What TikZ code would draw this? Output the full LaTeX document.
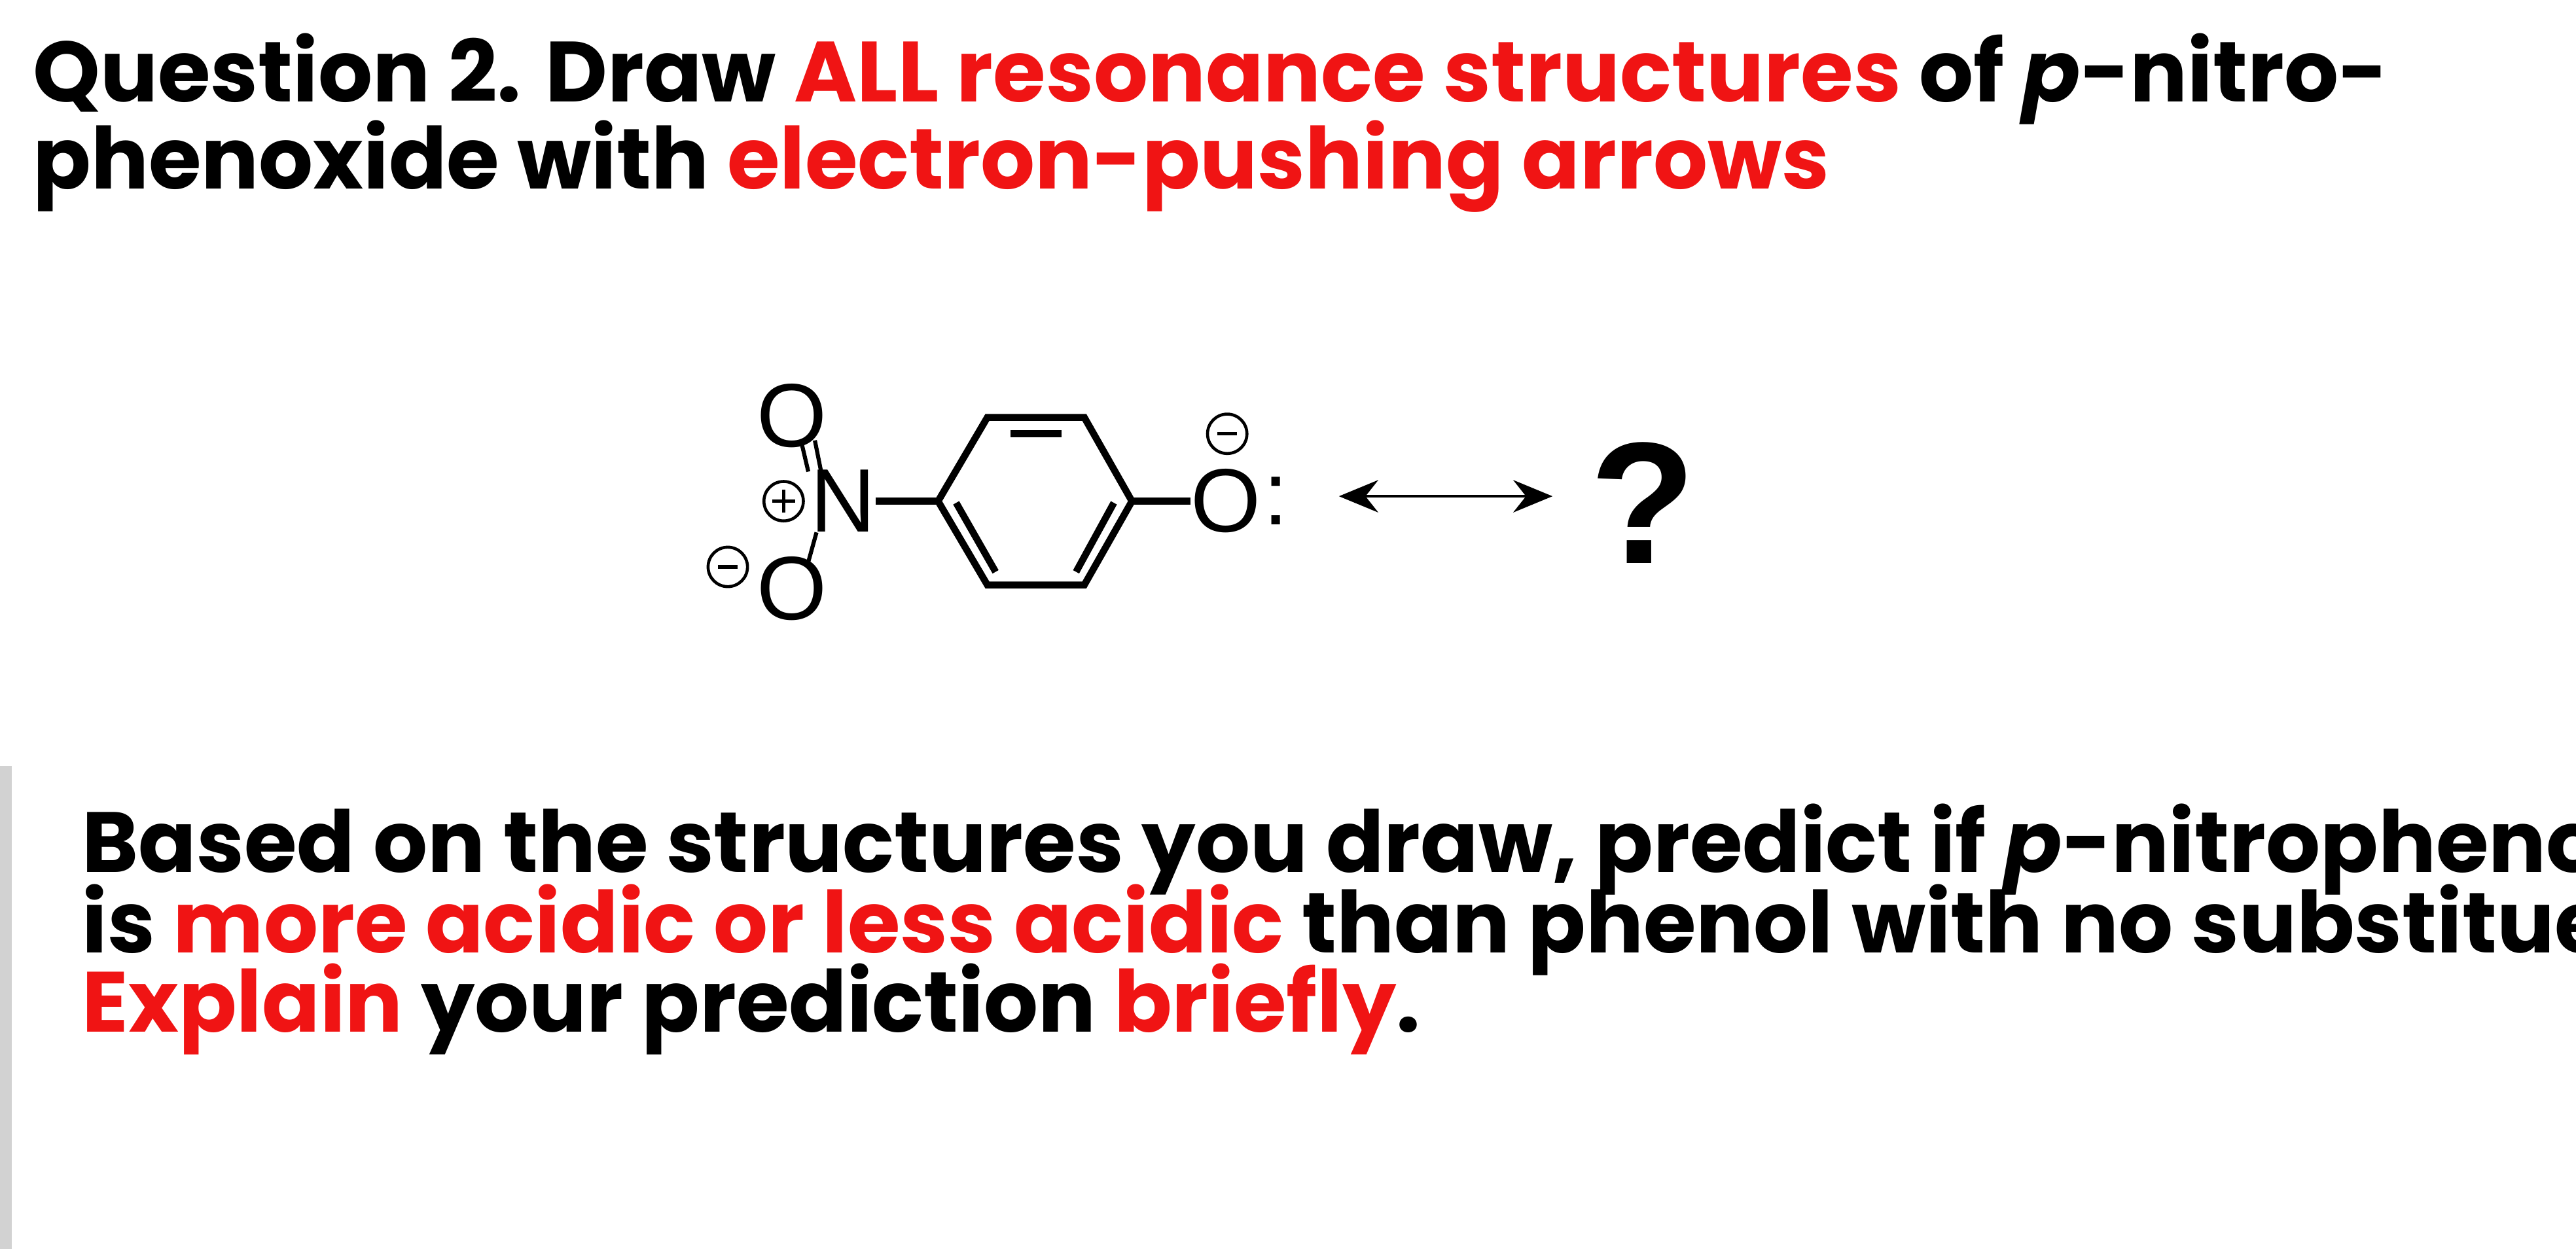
\documentclass[tikz,border=0pt]{standalone}
\usepackage{fontspec}
\setmainfont{Poppins}
\newfontfamily\atomfont{Liberation Sans}
\usetikzlibrary{arrows.meta,calc}
\definecolor{qred}{RGB}{240,20,20}
\newcommand{\rd}[1]{\textcolor{qred}{#1}}
\begin{document}
\begin{tikzpicture}[x=0.05cm,y=-0.05cm,
  txt/.style={anchor=base west,inner sep=0pt,font=\fontsize{74}{80}\selectfont\bfseries},
  atom/.style={inner sep=0pt,font=\atomfont\fontsize{78}{80}\selectfont},
  bond/.style={line width=6pt},
  chg/.style={draw,circle,line width=2.6pt,minimum size=1.2cm,inner sep=0pt}]
\useasboundingbox (0,0) rectangle (1568,760);
\fill[gray!35] (0,466) rectangle (7,760);
% text
\node[txt] (l1) at (20,62) {Question 2. Draw \rd{ALL resonance structures} of \textit{p}-nitro-};
\node[txt] (l2) at (20,115) {phenoxide with \rd{electron-pushing arrows}};
\node[txt] (l3) at (50,531) {Based on the structures you draw, predict if \textit{p}-nitrophenol};
\node[txt] (l4) at (50,580) {is \rd{more acidic or less acidic} than phenol with no substituent.};
\node[txt] (l5) at (50,628) {\rd{Explain} your prediction \rd{briefly}.};
% ring
\coordinate (L) at (571,305); \coordinate (TL) at (601,254); \coordinate (TR) at (660,254);
\coordinate (R) at (689,305); \coordinate (BR) at (660,356); \coordinate (BL) at (601,356);
\draw[bond,line join=miter] (L)--(TL)--(TR)--(R)--(BR)--(BL)--cycle;
\draw[bond] (615,264)--(646,264);
\draw[bond] (582,306)--(606,348);
\draw[bond] (678,306)--(655,348);
% atoms
\node[atom] (N) at (513,305) {N};
\node[atom] (O1) at (482,253) {O};
\node[atom] (O2) at (482,358) {O};
\node[atom] (O3) at (746,305) {O};
\node[atom,anchor=west] (col) at (769,305) {:};
\node[chg] (plus) at (477,305) {}; 
\draw[line width=2.6pt] ($(plus)+(-7,0)$)--($(plus)+(7,0)$) ($(plus)+(0,-7)$)--($(plus)+(0,7)$);
\node[chg] (m1) at (443,345) {};
\draw[line width=3pt] ($(m1)+(-6,0)$)--($(m1)+(6,0)$);
\node[chg] (m2) at (747,264) {};
\draw[line width=3pt] ($(m2)+(-6,0)$)--($(m2)+(6,0)$);
% bonds to substituents
\draw[bond] (N.east)--(L);
\draw[bond] (R)--(O3.west);
\draw[line width=3.5pt] (488,270)--(492,287) (496,268)--(500,288);
\draw[line width=3.5pt] (497,324)--(492,342);
% arrow and ?
\node[atom,font=\atomfont\bfseries\fontsize{150}{150}\selectfont] (q) at (1000,306) {?};
\coordinate (a1) at (815,302); \coordinate (a2) at (945,302);
\draw[line width=2.5pt,{Stealth[length=34pt,width=28pt]}-{Stealth[length=34pt,width=28pt]}] (a1)--(a2);
\end{tikzpicture}
\end{document}
